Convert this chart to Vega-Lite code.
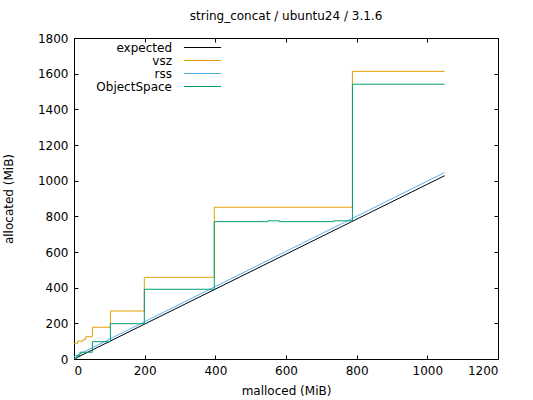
{
  "$schema": "https://vega.github.io/schema/vega-lite/v6.json",
  "autosize": {"type": "none"},
  "padding": {"left": 74, "top": 38, "right": 35, "bottom": 41},
  "width": 424,
  "height": 321,
  "background": "white",
  "title": {
    "text": "string_concat / ubuntu24 / 3.1.6",
    "font": "DejaVu Sans",
    "fontSize": 12,
    "fontWeight": "normal",
    "color": "#000",
    "offset": 9
  },
  "data": {
    "values": [
      {"series": "expected", "kind": "linear", "x": 0, "y": 0},
      {"series": "expected", "kind": "linear", "x": 1049, "y": 1028},
      {"series": "rss", "kind": "linear", "x": 0, "y": 12},
      {"series": "rss", "kind": "linear", "x": 1049, "y": 1046},
      {"series": "vsz", "kind": "step", "x": 0, "y": 88},
      {"series": "vsz", "kind": "step", "x": 10, "y": 100},
      {"series": "vsz", "kind": "step", "x": 26, "y": 110},
      {"series": "vsz", "kind": "step", "x": 33, "y": 125},
      {"series": "vsz", "kind": "step", "x": 52, "y": 178},
      {"series": "vsz", "kind": "step", "x": 103, "y": 269},
      {"series": "vsz", "kind": "step", "x": 199, "y": 458},
      {"series": "vsz", "kind": "step", "x": 397, "y": 851},
      {"series": "vsz", "kind": "step", "x": 788, "y": 1613},
      {"series": "vsz", "kind": "step", "x": 1049, "y": 1613},
      {"series": "ObjectSpace", "kind": "step", "x": 0, "y": 3},
      {"series": "ObjectSpace", "kind": "step", "x": 8, "y": 20},
      {"series": "ObjectSpace", "kind": "step", "x": 17, "y": 38},
      {"series": "ObjectSpace", "kind": "step", "x": 52, "y": 97},
      {"series": "ObjectSpace", "kind": "step", "x": 103, "y": 198},
      {"series": "ObjectSpace", "kind": "step", "x": 199, "y": 391},
      {"series": "ObjectSpace", "kind": "step", "x": 397, "y": 770},
      {"series": "ObjectSpace", "kind": "step", "x": 549, "y": 775},
      {"series": "ObjectSpace", "kind": "step", "x": 581, "y": 770},
      {"series": "ObjectSpace", "kind": "step", "x": 735, "y": 775},
      {"series": "ObjectSpace", "kind": "step", "x": 788, "y": 1541},
      {"series": "ObjectSpace", "kind": "step", "x": 1049, "y": 1541}
    ]
  },
  "encoding": {
    "color": {
      "field": "series",
      "type": "nominal",
      "scale": {
        "domain": ["expected", "vsz", "rss", "ObjectSpace"],
        "range": ["#000000", "#e69f00", "#56b4e9", "#009e73"]
      },
      "legend": {
        "title": null,
        "orient": "none",
        "legendX": 122,
        "legendY": 3,
        "padding": 0,
        "rowPadding": -0.7,
        "symbolType": "M-3.1,0H3.1",
        "symbolSize": 144,
        "symbolStrokeWidth": 1,
        "labelAlign": "right",
        "labelOffset": -37,
        "labelFont": "DejaVu Sans",
        "labelFontSize": 12,
        "labelColor": "#000"
      }
    }
  },
  "layer": [
    {
      "transform": [{"filter": "datum.kind == 'linear'"}],
      "mark": {"type": "line", "strokeWidth": 1},
      "encoding": {
        "x": {
          "field": "x", "type": "quantitative",
          "scale": {"domain": [0, 1200], "nice": false},
          "axis": {"values": [0, 200, 400, 600, 800, 1000, 1200], "format": "d", "title": "malloced (MiB)", "orient": "bottom"}
        },
        "y": {
          "field": "y", "type": "quantitative",
          "scale": {"domain": [0, 1800], "nice": false},
          "axis": {"values": [0, 200, 400, 600, 800, 1000, 1200, 1400, 1600, 1800], "format": "d", "title": "allocated (MiB)", "orient": "left"}
        }
      }
    },
    {
      "transform": [{"filter": "datum.kind == 'step'"}],
      "mark": {"type": "line", "strokeWidth": 1, "interpolate": "step-after"},
      "encoding": {
        "x": {
          "field": "x", "type": "quantitative",
          "axis": {"values": [0, 200, 400, 600, 800, 1000, 1200], "title": null, "labels": false, "orient": "top"}
        },
        "y": {
          "field": "y", "type": "quantitative",
          "axis": {"values": [0, 200, 400, 600, 800, 1000, 1200, 1400, 1600, 1800], "title": null, "labels": false, "orient": "right"}
        }
      }
    }
  ],
  "resolve": {"axis": {"x": "independent", "y": "independent"}},
  "config": {
    "view": {"stroke": "#000", "strokeWidth": 1},
    "axis": {
      "domain": false,
      "grid": false,
      "ticks": true,
      "tickSize": -4,
      "tickColor": "#000",
      "tickWidth": 1,
      "labelFont": "DejaVu Sans",
      "labelFontSize": 12,
      "labelColor": "#000",
      "labelPadding": 10,
      "titleFont": "DejaVu Sans",
      "titleFontSize": 12,
      "titleFontWeight": "normal",
      "titleColor": "#000"
    },
    "axisBottom": {"titlePadding": 9},
    "axisLeft": {"titlePadding": 22}
  }
}
